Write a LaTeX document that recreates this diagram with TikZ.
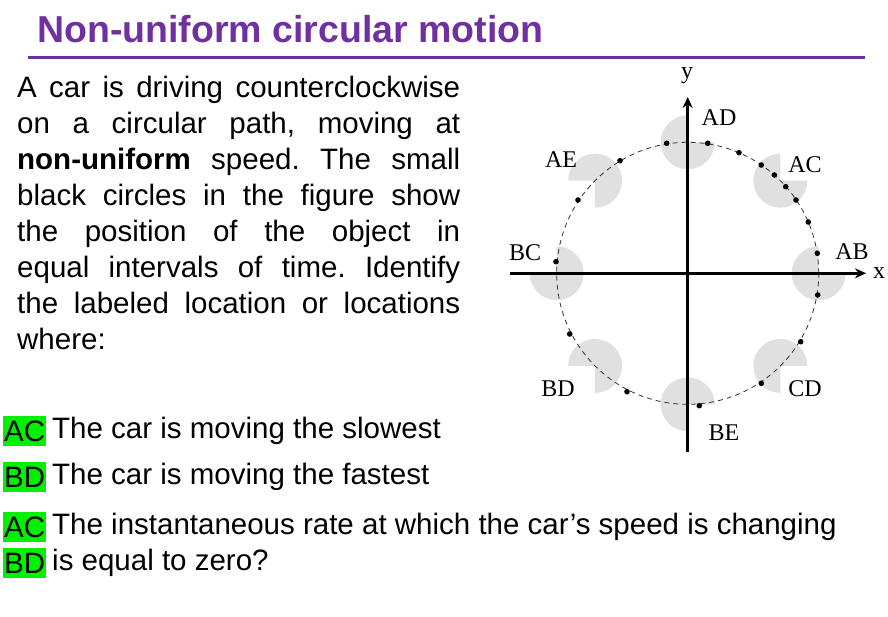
\documentclass[tikz,border=0pt]{standalone}
\usepackage{fontspec}
\setmainfont{Liberation Sans}
\newfontfamily\serifft{Liberation Serif}
\usetikzlibrary{arrows.meta,calc}
\definecolor{ttl}{HTML}{7030A0}
\definecolor{ans}{HTML}{00F000}
\tikzset{
 lbl/.style={font=\serifft\fontsize{24}{24}\selectfont,inner sep=0pt},
 disc/.style={fill=black!12,draw=none},
 dotp/.style={fill=black,draw=none},
 body/.style={font=\fontsize{29.5}{36}\selectfont,inner sep=0pt,anchor=west},
 ansbox/.style={fill=ans,inner sep=1pt,font=\fontsize{29.5}{29.5}\selectfont,anchor=west,minimum height=30pt},
 axis/.style={line width=2.8pt,-{Stealth[length=11pt,width=10pt]}}
}
\begin{document}
\begin{tikzpicture}[x=1pt,y=1pt]
\useasboundingbox (0,0) rectangle (888,616);
% title
\node[anchor=west,inner sep=0pt,text=ttl,font=\bfseries\fontsize{37.5}{37.5}\selectfont] (title) at (37,{616-29}) {Non-uniform circular motion};
\draw[ttl,line width=3pt] (28,{616-58}) -- (865,{616-58});
% body text
\node[anchor=north west,inner sep=0pt,text width=443pt,font=\fontsize{29.5}{36}\selectfont,align=justify] (body) at (17,{616-76})
{\hyphenpenalty=10000\exhyphenpenalty=10000\frenchspacing A car is driving counterclockwise on a circular path, moving at \textbf{non-uniform} speed. The small black circles in the figure show the position of the object in equal intervals of time. Identify the labeled location or locations where:\par};
% answers
\node[ansbox] (a1) at (3,{616-431}) {AC};
\node[body] (t1) at (52,{616-431}) {The car is moving the slowest};
\node[ansbox] (a2) at (3,{616-477}) {BD};
\node[body] (t2) at (52,{616-477}) {The car is moving the fastest};
\node[ansbox] (a3) at (3,{616-527}) {AC};
\node[body] (t3) at (52,{616-527}) {The instantaneous rate at which the car’s speed is changing};
\node[ansbox] (a4) at (3,{616-563}) {BD};
\node[body] (t4) at (52,{616-563}) {is equal to zero?};
% figure
\coordinate (O) at (687.7,{616-273.3});
\def\R{131}\def\r{27}
\foreach \a/\s in {90/90,45/90,0/90,180/180,135/270,-135/270,-90/0,-45/0}{
  \fill[disc] ($(O)+(\a:\R)$) -- ++(\s:\r) arc[start angle=\s,end angle=\s+270,radius=\r] -- cycle;
}
\draw[dashed,dash pattern=on 5pt off 4pt,line width=0.8pt,black!80] (O) circle[radius=\R];
\draw[axis] (510,{616-273.3}) -- (866,{616-273.3});
\draw[axis] (687.7,{616-452}) -- (687.7,{616-97});
\node[lbl] (xl) at (879,{616-273}) {x};
\node[lbl] (yl) at (687,{616-76}) {y};
\foreach \x/\y in {666.7/143.3,707.7/143.3,739/152.7,761.3/165,774.3/175,785.7/186.7,796/200,808.3/222,817.3/253.3,817.7/295,800.7/341.7,761.3/383.3,699.3/405.7,627/391.7,569.7/334,556/261.7,578/200,620/160.7}{
  \fill[dotp] (\x,{616-\y}) circle[radius=2.8];
}
\node[lbl] (AD) at (719,{616-118}) {AD};
\node[lbl] (AE) at (561,{616-160}) {AE};
\node[lbl] (AC) at (805,{616-165}) {AC};
\node[lbl] (AB) at (852,{616-252}) {AB};
\node[lbl] (BC) at (525,{616-253}) {BC};
\node[lbl] (BD) at (558,{616-389}) {BD};
\node[lbl] (CD) at (805,{616-389}) {CD};
\node[lbl] (BE) at (724,{616-433}) {BE};
\end{tikzpicture}
\end{document}
